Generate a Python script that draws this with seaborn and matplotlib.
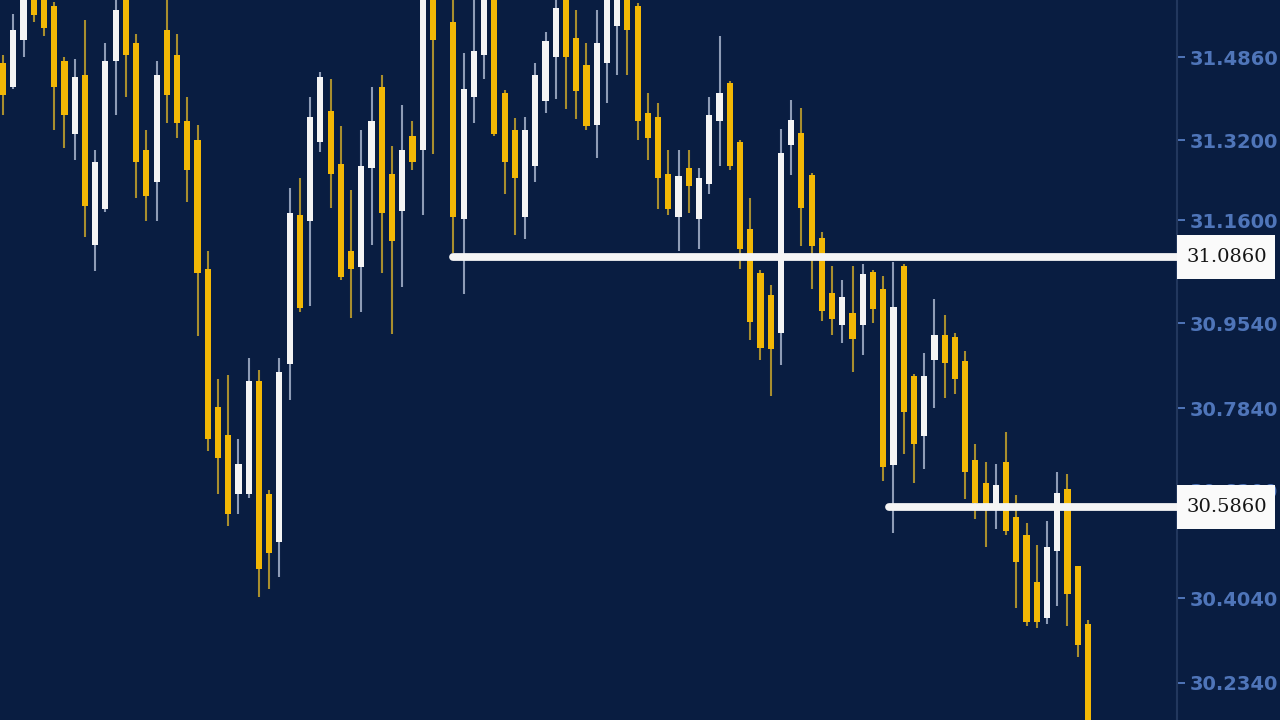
import numpy as np
import pandas as pd
import matplotlib
matplotlib.use("Agg")
import matplotlib.pyplot as plt
import matplotlib.transforms as mtransforms
from matplotlib.patches import Rectangle
import seaborn as sns

# ---------------- data ----------------
session = list(range(0, 43)) + list(range(44, 107))

open_ = [31.474, 31.426, 31.520, 31.600, 31.600, 31.588, 31.478, 31.332, 31.450, 31.110,
         31.182, 31.478, 31.600, 31.514, 31.300, 31.236, 31.540, 31.490, 31.358, 31.320,
         31.062, 30.786, 30.730, 30.612, 30.612, 30.838, 30.612, 30.516, 30.872, 31.170,
         31.158, 31.316, 31.378, 31.272, 31.098, 31.066, 31.264, 31.426, 31.252, 31.178,
         31.328, 31.300, 31.610, 31.556, 31.162, 31.406, 31.490, 31.630, 31.414, 31.340,
         31.166, 31.268, 31.398, 31.486, 31.620, 31.524, 31.470, 31.350, 31.474, 31.548,
         31.620, 31.588, 31.374, 31.366, 31.252, 31.166, 31.264, 31.162, 31.232, 31.358,
         31.434, 31.316, 31.142, 31.054, 31.010, 30.934, 31.310, 31.334, 31.250, 31.124,
         31.014, 30.950, 30.974, 30.950, 31.056, 31.022, 30.670, 31.068, 30.848, 30.728,
         30.880, 30.930, 30.926, 30.878, 30.680, 30.634, 30.586, 30.676, 30.566, 30.530,
         30.436, 30.364, 30.498, 30.622, 30.468, 30.352]

high = [31.490, 31.572, 31.610, 31.604, 31.606, 31.596, 31.486, 31.482, 31.560, 31.300,
        31.514, 31.600, 31.606, 31.532, 31.340, 31.478, 31.600, 31.532, 31.406, 31.350,
        31.098, 30.842, 30.850, 30.722, 30.884, 30.860, 30.620, 30.884, 31.224, 31.244,
        31.406, 31.456, 31.442, 31.348, 31.220, 31.340, 31.426, 31.450, 31.308, 31.390,
        31.358, 31.640, 31.620, 31.610, 31.494, 31.610, 31.640, 31.640, 31.420, 31.364,
        31.366, 31.474, 31.536, 31.610, 31.630, 31.580, 31.514, 31.580, 31.630, 31.640,
        31.630, 31.594, 31.414, 31.394, 31.300, 31.300, 31.300, 31.264, 31.406, 31.528,
        31.438, 31.320, 31.204, 31.060, 31.030, 31.342, 31.400, 31.384, 31.254, 31.136,
        31.068, 31.040, 31.068, 31.072, 31.060, 31.048, 31.076, 31.072, 30.852, 30.894,
        31.002, 30.970, 30.934, 30.898, 30.712, 30.676, 30.672, 30.736, 30.610, 30.554,
        30.510, 30.558, 30.656, 30.652, 30.468, 30.360]

low = [31.370, 31.422, 31.486, 31.556, 31.528, 31.340, 31.304, 31.280, 31.126, 31.058,
       31.176, 31.370, 31.406, 31.204, 31.158, 31.158, 31.354, 31.324, 31.196, 30.928,
       30.698, 30.612, 30.548, 30.572, 30.604, 30.406, 30.422, 30.446, 30.800, 30.976,
       30.988, 31.296, 31.184, 31.040, 30.964, 30.976, 31.110, 31.054, 30.932, 31.026,
       31.260, 31.170, 31.292, 31.094, 31.012, 31.354, 31.442, 31.328, 31.212, 31.130,
       31.122, 31.236, 31.374, 31.402, 31.382, 31.362, 31.340, 31.284, 31.394, 31.450,
       31.450, 31.320, 31.280, 31.182, 31.170, 31.098, 31.174, 31.102, 31.212, 31.268,
       31.260, 31.062, 30.920, 30.880, 30.808, 30.870, 31.250, 31.108, 31.022, 30.958,
       30.930, 30.914, 30.856, 30.890, 30.954, 30.638, 30.534, 30.692, 30.634, 30.662,
       30.784, 30.804, 30.812, 30.602, 30.562, 30.506, 30.542, 30.530, 30.384, 30.348,
       30.344, 30.352, 30.388, 30.348, 30.286, 30.120]

close = [31.410, 31.540, 31.600, 31.570, 31.544, 31.426, 31.370, 31.446, 31.188, 31.276,
         31.478, 31.580, 31.490, 31.276, 31.208, 31.450, 31.410, 31.354, 31.260, 31.054,
         30.722, 30.684, 30.572, 30.672, 30.838, 30.462, 30.494, 30.856, 31.174, 30.984,
         31.366, 31.446, 31.252, 31.046, 31.062, 31.268, 31.358, 31.174, 31.118, 31.300,
         31.276, 31.630, 31.520, 31.166, 31.422, 31.498, 31.620, 31.332, 31.276, 31.244,
         31.340, 31.450, 31.518, 31.584, 31.486, 31.418, 31.348, 31.514, 31.620, 31.630,
         31.540, 31.358, 31.324, 31.244, 31.182, 31.248, 31.228, 31.244, 31.370, 31.414,
         31.268, 31.102, 30.956, 30.904, 30.902, 31.294, 31.360, 31.184, 31.108, 30.978,
         30.962, 31.006, 30.922, 31.052, 30.982, 30.666, 30.986, 30.776, 30.712, 30.848,
         30.930, 30.874, 30.842, 30.656, 30.594, 30.586, 30.630, 30.538, 30.476, 30.356,
         30.356, 30.506, 30.614, 30.412, 30.310, 30.140]

level_prices = [31.086, 30.586]
level_start = [44.0, 86.6]
level_labels = ["31.0860", "30.5860"]

tick_values = [31.486, 31.320, 31.160, 30.954, 30.784, 30.620, 30.404, 30.234]
tick_labels = ["31.4860", "31.3200", "31.1600", "30.9540", "30.7840", "30.6200", "30.4040", "30.2340"]

# ---------------- style ----------------
BG = "#091d41"
UP_BODY = "#f4f4f4"
DOWN_BODY = "#f2b705"
UP_WICK = "#8e9cb6"
DOWN_WICK = "#a88e2e"
AXIS_BLUE = "#4f75b9"

sns.set_theme(style="dark", rc={"axes.facecolor": BG, "figure.facecolor": BG,
                                "axes.grid": False})

df = pd.DataFrame({"session": session, "open": open_, "high": high,
                   "low": low, "close": close})
df["up"] = df["close"] >= df["open"]

fig = plt.figure(figsize=(12.8, 7.2), dpi=100)
ax = fig.add_axes([0, 0, 1177 / 1280, 1])
ax.set_facecolor(BG)

wick_colors = np.where(df["up"], UP_WICK, DOWN_WICK)
body_colors = np.where(df["up"], UP_BODY, DOWN_BODY)

ax.vlines(df["session"], df["low"], df["high"], colors=wick_colors,
          linewidth=1.5, zorder=2)
ax.bar(df["session"], (df["close"] - df["open"]).abs(),
       bottom=np.minimum(df["open"], df["close"]), width=0.6,
       color=body_colors, linewidth=0, zorder=3)

ax.set_xlim(-0.3, 114.7)
ax.set_ylim(30.16, 31.60)

# horizontal levels
lc = ax.hlines(level_prices, level_start, 114.7, colors="#f5f5f5",
               linewidth=5.6, zorder=5)
lc.set_capstyle("round")

# label boxes at the right
trans = mtransforms.blended_transform_factory(ax.transAxes, ax.transData)
for price, lab in zip(level_prices, level_labels):
    ax.add_patch(Rectangle((1.0, price - 0.044), 0.0835, 0.088, transform=trans,
                           facecolor="#fafafa", edgecolor="none",
                           clip_on=False, zorder=10))
    ax.text(1.0425, price, lab, transform=trans, ha="center", va="center",
            fontsize=14, color="#151515", family="DejaVu Serif",
            clip_on=False, zorder=11)

# axes, ticks
for side in ["top", "left", "bottom"]:
    ax.spines[side].set_visible(False)
ax.spines["right"].set_visible(True)
ax.spines["right"].set_color("#22375d")
ax.spines["right"].set_linewidth(1.5)

ax.set_xticks([])
ax.yaxis.tick_right()
ax.set_yticks(tick_values)
ax.set_yticklabels(tick_labels)
ax.tick_params(axis="y", which="major", right=True, left=False, length=6,
               width=1.4, color=AXIS_BLUE, labelcolor=AXIS_BLUE,
               labelsize=14, pad=3)
for lbl in ax.get_yticklabels():
    lbl.set_family(["Liberation Sans Narrow", "DejaVu Sans"])
    lbl.set_fontweight("bold")

ax.set_xlabel("")
ax.set_ylabel("")

fig.savefig("out.png", dpi=100, facecolor=BG)
